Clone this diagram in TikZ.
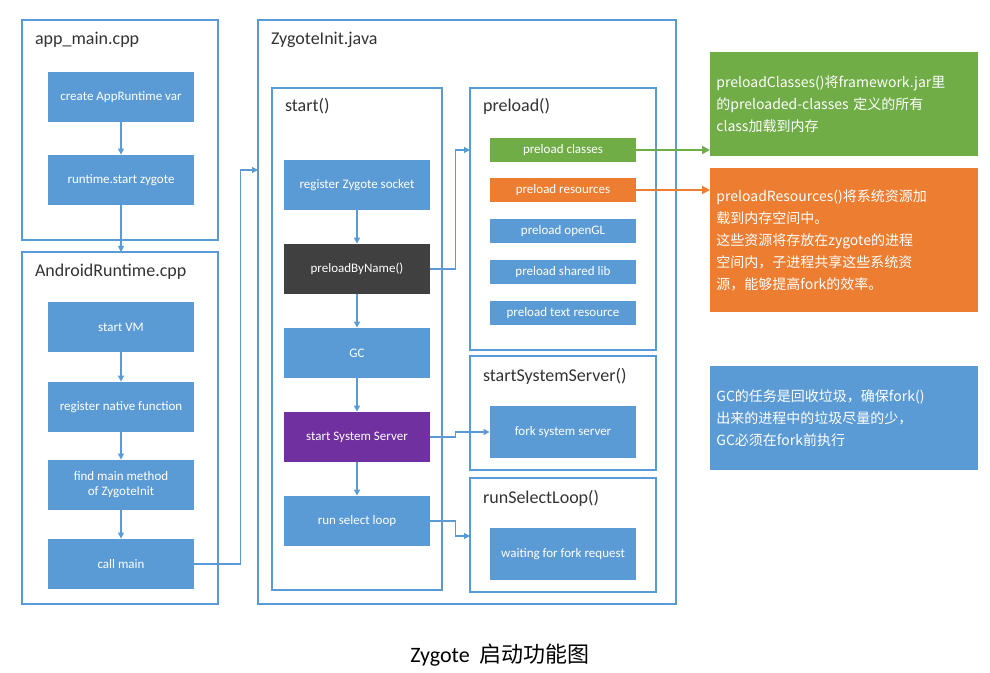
\documentclass[tikz,border=0pt]{standalone}
\usepackage{fontspec}
\setmainfont{Carlito}
\newfontfamily\cjk{Noto Sans CJK SC}
\usetikzlibrary{arrows.meta}
\definecolor{mblue}{HTML}{5B9BD5}
\definecolor{mgreen}{HTML}{70AD47}
\definecolor{morange}{HTML}{ED7D31}
\definecolor{mpurple}{HTML}{7030A0}
\definecolor{mdark}{HTML}{404040}
\begin{document}
\begin{tikzpicture}[
        x=0.5pt, y=-0.5pt,
        frame/.style = {draw=mblue, line width=0.6pt},% outer containers
        T/.style = {anchor=west, font=\fontsize{9}{10}\selectfont, text=black!80},
        S/.style = {rectangle, fill=#1, text=white, inner sep=0pt,
                minimum width=73pt, minimum height=25pt,
                font=\fontsize{6.5}{7.5}\selectfont, align=center},
        S/.default=mblue,
        P/.style = {S=#1, minimum height=12pt},
        P/.default=mblue,
        N/.style = {rectangle, fill=#1, text=white, inner sep=3pt,
                minimum width=134pt, anchor=north west, align=left,
                font=\cjk\fontsize{7}{11}\selectfont, text width=128pt},
        L/.style = {-{Triangle[length=3pt,width=3pt]}, draw=mblue, line width=0.6pt},
    ]
    \useasboundingbox (0,0) rectangle (990,673);
    % containers
    \draw[frame] (22,20) rectangle (218,240);
    \node[T] (tapp) at (28,40) {app\_main.cpp};
    \draw[frame] (22,252) rectangle (218,604);
    \node[T] (tart) at (28,272) {AndroidRuntime.cpp};
    \draw[frame] (258,20) rectangle (676,604);
    \node[T] (tzyg) at (264,40) {ZygoteInit.java};
    \draw[frame] (272,88) rectangle (442,590);
    \node[T] (tstart) at (278,106) {start()};
    \draw[frame] (470,88) rectangle (656,350);
    \node[T] (tpre) at (476,106) {preload()};
    \draw[frame] (470,356) rectangle (656,470);
    \node[T] (tsss) at (476,376) {startSystemServer()};
    \draw[frame] (470,478) rectangle (656,592);
    \node[T] (trsl) at (476,498) {runSelectLoop()};
    \coordinate (arttop) at (121,252);
    \coordinate (zygleft) at (258,170);
    % left column
    \node[S] (crt) at (121,97) {create AppRuntime var};
    \node[S] (rsz) at (121,180) {runtime.start zygote};
    \node[S] (svm) at (121,327) {start VM};
    \node[S] (rnf) at (121,407) {register native function};
    \node[S] (fmm) at (121,485) {find main method\\of ZygoteInit};
    \node[S] (cmn) at (121,564) {call main};
    % start()
    \node[S] (rzs) at (357,185) {register Zygote socket};
    \node[S=mdark] (pbn) at (357,269) {preloadByName()};
    \node[S] (gc) at (357,353) {GC};
    \node[S=mpurple] (sss) at (357,437) {start System Server};
    \node[S] (rsl) at (357,521) {run select loop};
    % preload()
    \node[P=mgreen] (pcl) at (563,150) {preload classes};
    \node[P=morange] (prs) at (563,190) {preload resources};
    \node[P] (pgl) at (563,231) {preload openGL};
    \node[P] (psl) at (563,272) {preload shared lib};
    \node[P] (ptr) at (563,313) {preload text resource};
    \node[S, minimum height=26pt] (fss) at (563,432) {fork system server};
    \node[S, minimum height=26pt] (wfr) at (563,554) {waiting for fork request};
    % notes
    \node[N=mgreen, minimum height=52pt] (ncl) at (710,52)
        {preloadClasses()将framework.jar里\\的preloaded-classes 定义的所有\\class加载到内存};
    \node[N=morange, minimum height=72pt] (nrs) at (710,168)
        {preloadResources()将系统资源加\\载到内存空间中。\\这些资源将存放在zygote的进程\\空间内，子进程共享这些系统资\\源，能够提高fork的效率。};
    \node[N=mblue, minimum height=52pt] (ngc) at (710,366)
        {GC的任务是回收垃圾，确保fork()\\出来的进程中的垃圾尽量的少，\\GC必须在fork前执行};
    % connectors
    \draw[L] (crt) -- (rsz);
    \draw[L] (rsz) -- (arttop);
    \draw[L] (svm) -- (rnf);
    \draw[L] (rnf) -- (fmm);
    \draw[L] (fmm) -- (cmn);
    \draw[L] (cmn.east) -- ++(46,0) |- (zygleft);
    \draw[L] (rzs) -- (pbn);
    \draw[L] (pbn) -- (gc);
    \draw[L] (gc) -- (sss);
    \draw[L] (sss) -- (rsl);
    \draw[L] (pbn.east) -- ++(25,0) |- (470,150);
    \draw[L] (sss.east) -- ++(25,0) |- (fss.west);
    \draw[L] (rsl.east) -- ++(25,0) |- (470,536);
    \draw[-{Triangle[length=4pt,width=4pt]}, draw=mgreen, line width=1pt] (pcl.east) -- (ncl.west |- pcl);
    \draw[-{Triangle[length=4pt,width=4pt]}, draw=morange, line width=1pt] (prs.east) -- (nrs.west |- prs);
    % caption
    \node[font=\fontsize{11}{12}\selectfont] (cap) at (500,655) {Zygote\ \ {\cjk 启动功能图}};
\end{tikzpicture}
\end{document}
